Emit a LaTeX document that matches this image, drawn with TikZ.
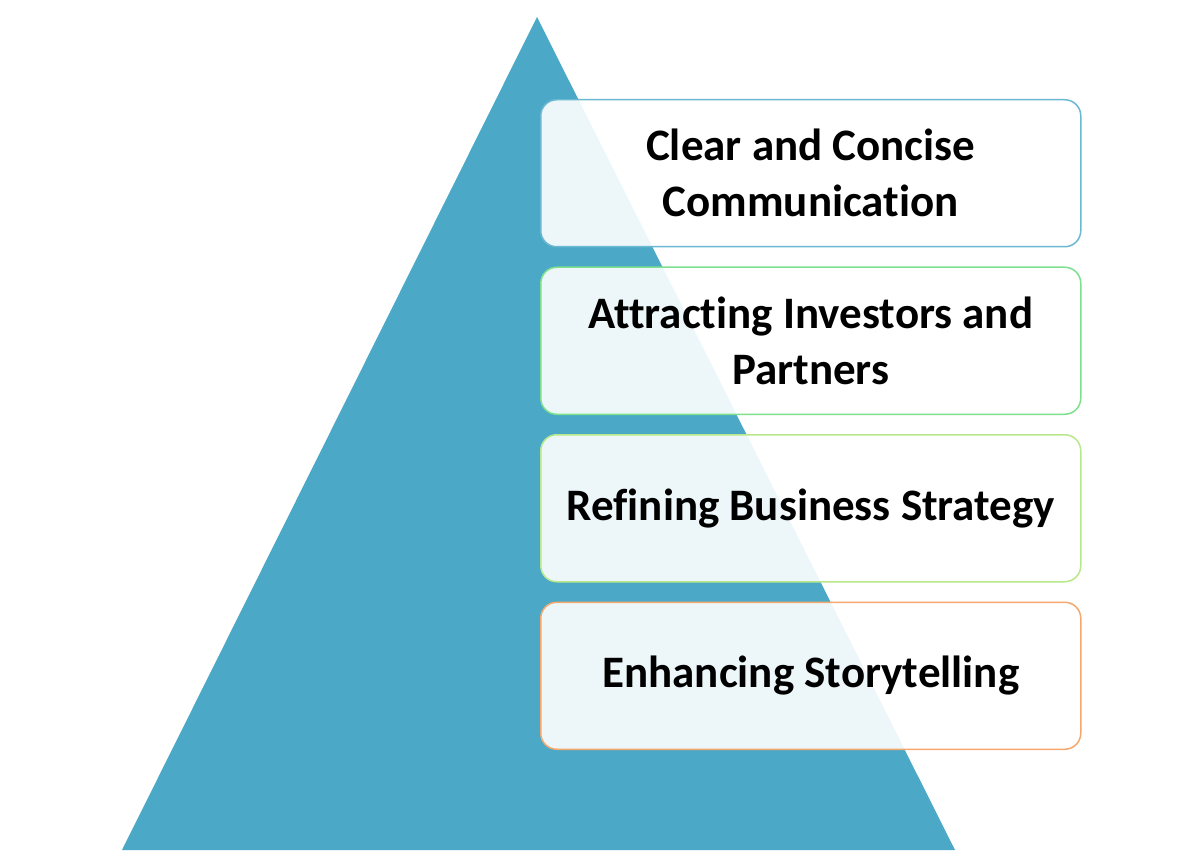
\documentclass[tikz,border=0pt]{standalone}
\usepackage{fontspec}
\setmainfont{Carlito}[RawFeature=-liga]
\usetikzlibrary{positioning}
\definecolor{pyramidblue}{HTML}{4BA8C6}
\definecolor{edgeblue}{HTML}{6BB8D2}
\definecolor{edgegreen}{HTML}{7EE08E}
\definecolor{edgelime}{HTML}{B8E88A}
\definecolor{edgeorange}{HTML}{F4A86E}
\begin{document}
\begin{tikzpicture}[x=1pt,y=-1pt,
    step/.style={draw=#1,line width=1.5pt,rounded corners=16pt,fill=white,fill opacity=0.9,
        text opacity=1,minimum width=540pt,minimum height=147pt,align=center,
        font=\bfseries\fontsize{45}{56}\selectfont,inner sep=0pt}]
        \useasboundingbox (0,0) rectangle (1186,858);
        \fill[pyramidblue] (537,17) -- (955,850) -- (122,850) -- cycle;

        \node[step=edgeblue, anchor=north west] (comm) at (540,99) {Clear and Concise\\Communication};
        \node[step=edgegreen, below=19pt of comm] (invest) {Attracting Investors and\\Partners};
        \node[step=edgelime, below=19pt of invest] (strat) {Refining Business Strategy};
        \node[step=edgeorange, below=19pt of strat] (story) {Enhancing Storytelling};
    \end{tikzpicture}
\end{document}
